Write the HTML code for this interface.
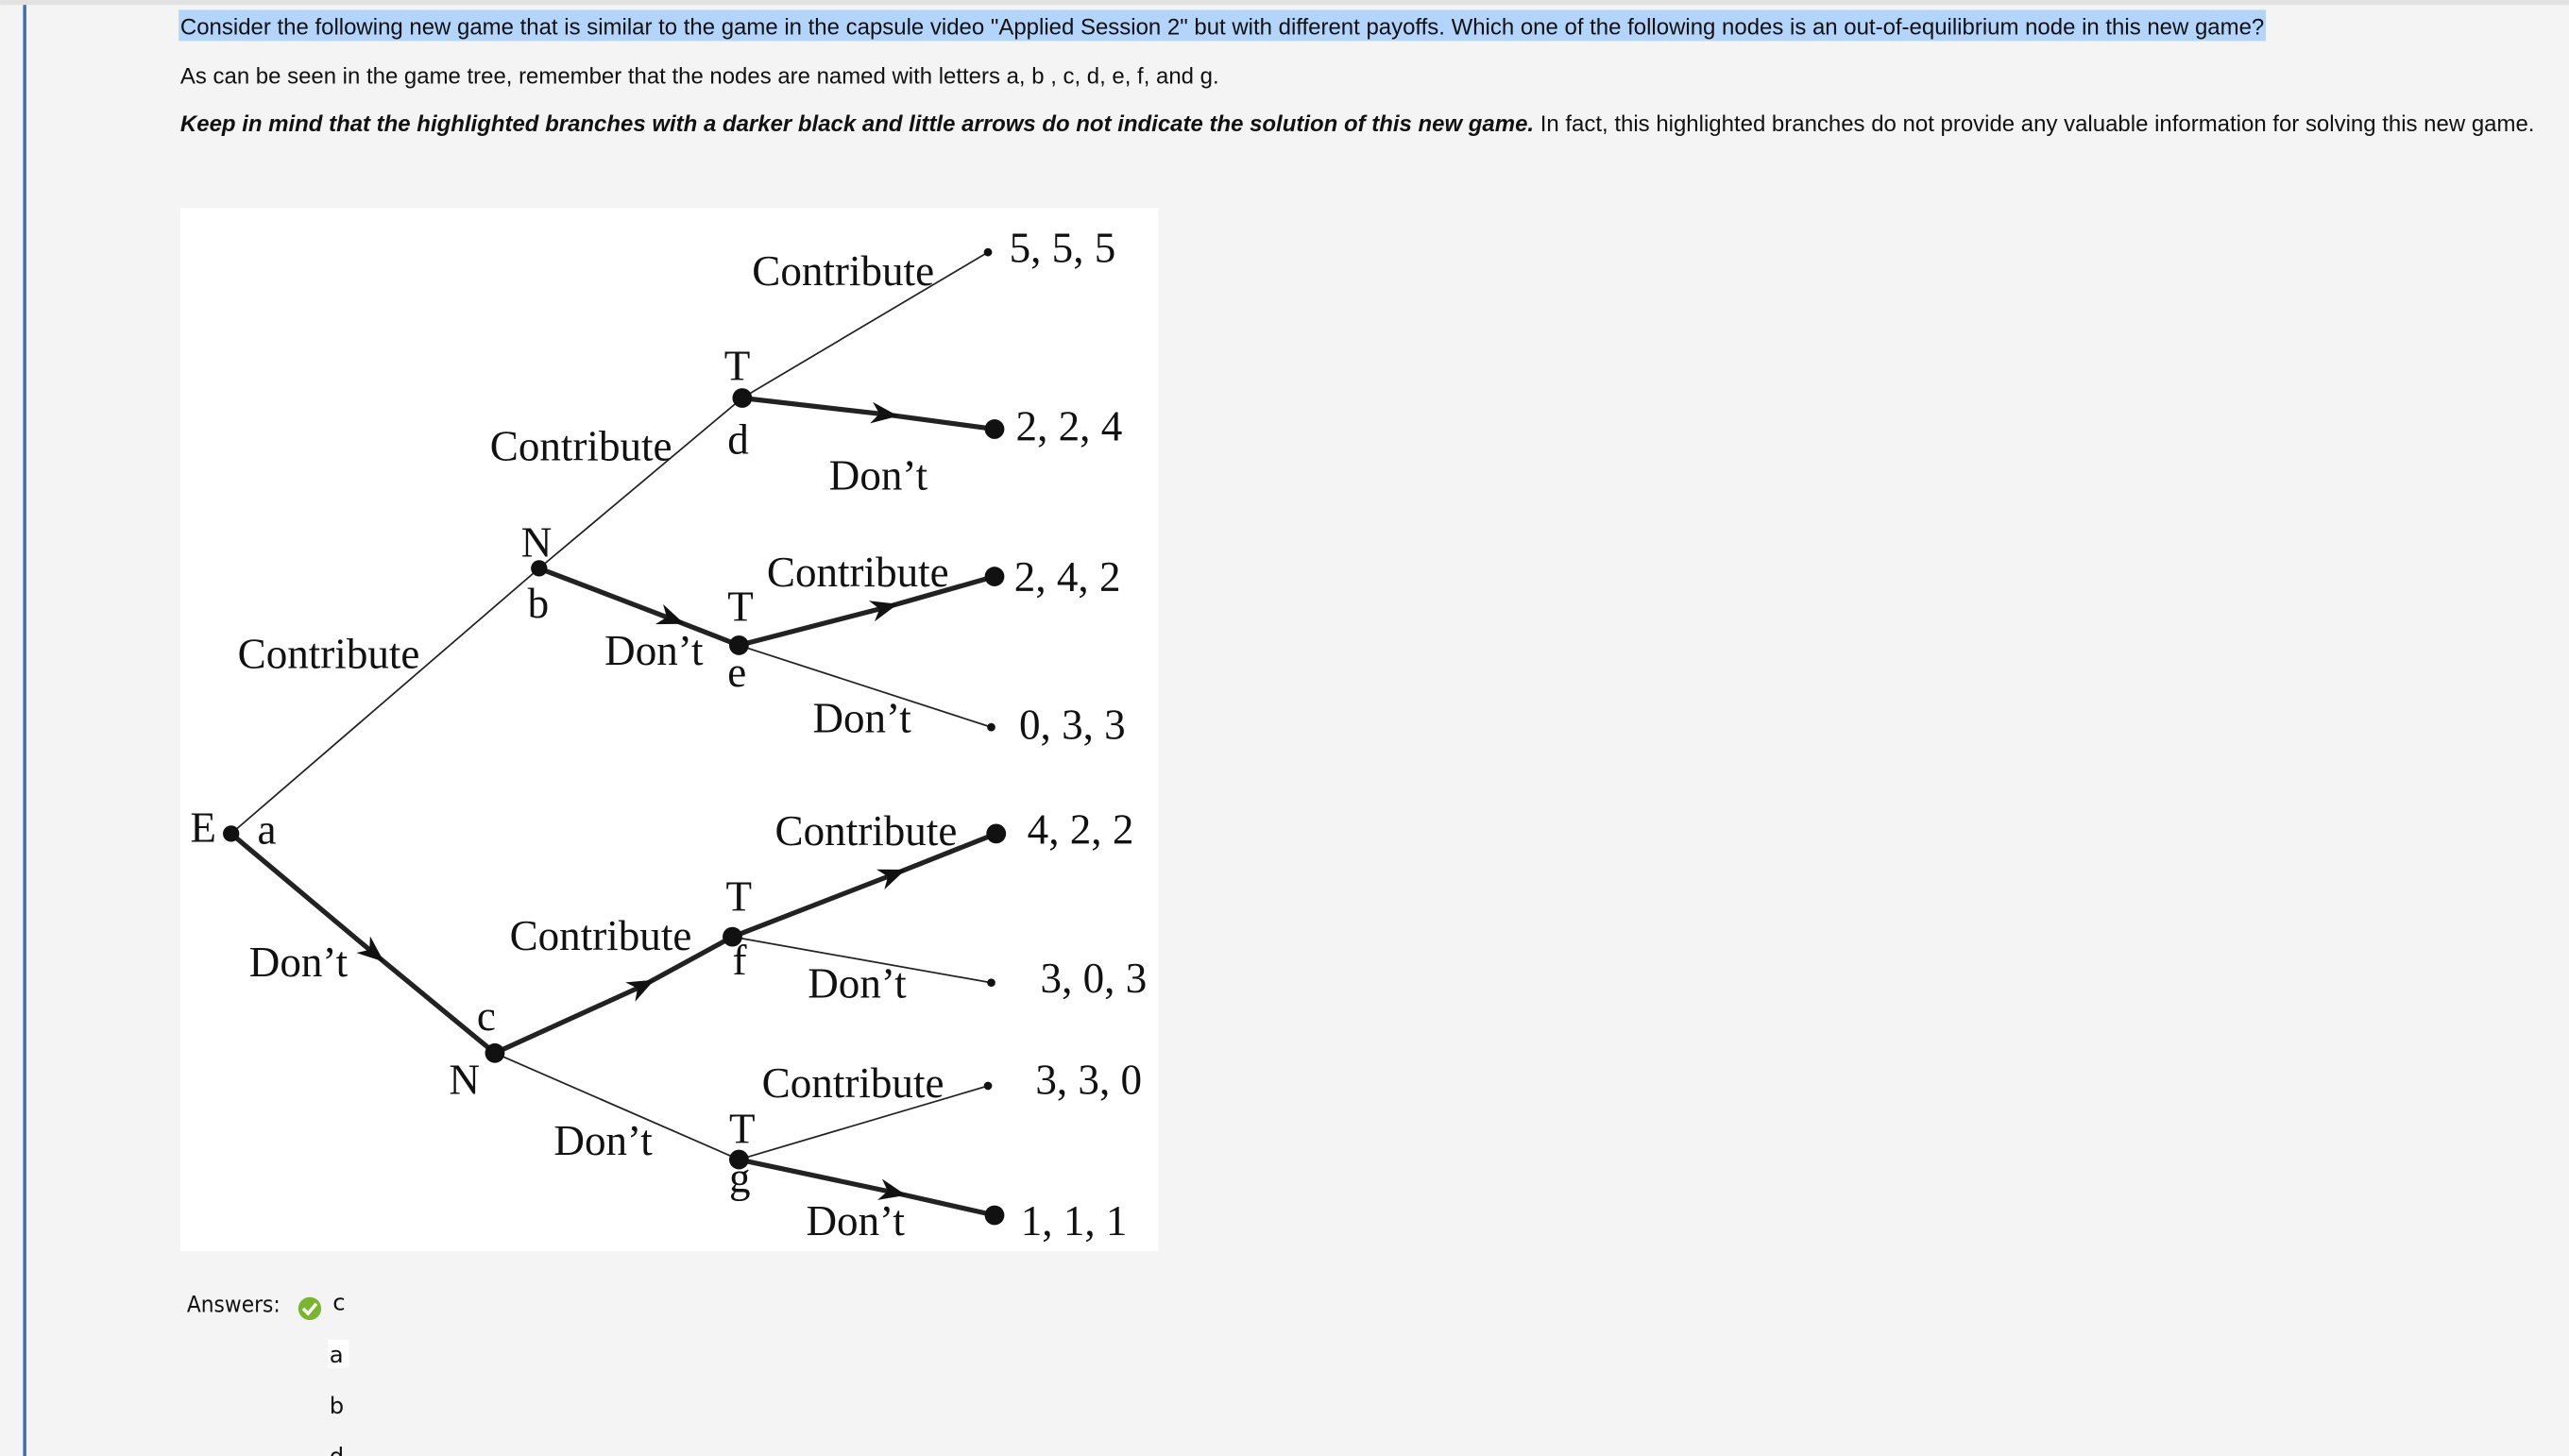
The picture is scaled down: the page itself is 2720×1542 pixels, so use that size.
<!DOCTYPE html>
<html><head><style>
html,body{margin:0;padding:0;background:#f4f4f4;}
svg{display:block;}
.q{font-family:"Liberation Sans",sans-serif;font-size:14px;fill:#111;}
.t{font-family:"Liberation Serif",serif;font-size:26px;fill:#111;}
.a{font-family:"DejaVu Sans","Liberation Sans",sans-serif;font-size:14px;fill:#111;}
</style></head><body>
<svg width="2720" height="1542" viewBox="0 0 1568 889" xmlns="http://www.w3.org/2000/svg">
<defs>
<marker id="ar" viewBox="0 0 10 10" refX="5" refY="5" markerWidth="5.5" markerHeight="5.5" orient="auto"><path d="M0,1 L10,5 L0,9 L3,5 z" fill="#111"/></marker>
</defs>
<rect x="0" y="0" width="1568" height="889" fill="#f4f4f4"/>
<rect x="0" y="0" width="1568" height="3" fill="#e2e2e2"/>
<rect x="14" y="3" width="2" height="886" fill="#3a6fb0"/>
<rect x="109" y="6" width="1274" height="19" fill="#b3d4fb"/>
<text class="q" x="110" y="21" textLength="1272" lengthAdjust="spacingAndGlyphs">Consider the following new game that is similar to the game in the capsule video "Applied Session 2" but with different payoffs. Which one of the following nodes is an out-of-equilibrium node in this new game?</text>
<text class="q" x="110" y="51" textLength="634" lengthAdjust="spacingAndGlyphs">As can be seen in the game tree, remember that the nodes are named with letters a, b , c, d, e, f, and g.</text>
<text class="q" x="110" y="80" textLength="1437" lengthAdjust="spacingAndGlyphs"><tspan font-weight="bold" font-style="italic">Keep in mind that the highlighted branches with a darker black and little arrows do not indicate the solution of this new game.</tspan> In fact, this highlighted branches do not provide any valuable information for solving this new game.</text>
<rect x="110" y="127" width="597" height="637" fill="#fff"/>
<g stroke="#222" fill="none">
<g stroke-width="1">
<line x1="141" y1="509" x2="329" y2="347"/>
<line x1="329" y1="347" x2="453" y2="243"/>
<line x1="453" y1="243" x2="603" y2="154"/>
<line x1="451" y1="394" x2="605" y2="444"/>
<line x1="447" y1="572" x2="605" y2="600"/>
<line x1="302" y1="643" x2="451" y2="708"/>
<line x1="451" y1="708" x2="603" y2="663"/>
</g>
<g stroke-width="3">
<polyline points="453,243 540,253 607,262" marker-mid="url(#ar)"/>
<polyline points="329,347 410,378 451,394" marker-mid="url(#ar)"/>
<polyline points="451,394 540,371 607,352" marker-mid="url(#ar)"/>
<polyline points="141,509 228,582 302,643" marker-mid="url(#ar)"/>
<polyline points="302,643 392,602 447,572" marker-mid="url(#ar)"/>
<polyline points="447,572 545,534 608,509" marker-mid="url(#ar)"/>
<polyline points="451,708 545,728 607,742" marker-mid="url(#ar)"/>
</g>
</g>
<g fill="#111">
<circle cx="141" cy="509" r="5"/><circle cx="329" cy="347" r="5"/><circle cx="453" cy="243" r="6"/>
<circle cx="451" cy="394" r="6"/><circle cx="302" cy="643" r="6"/><circle cx="447" cy="572" r="6"/><circle cx="451" cy="708" r="6"/>
<circle cx="603" cy="154" r="2.5"/><circle cx="607" cy="262" r="6"/><circle cx="607" cy="352" r="6"/><circle cx="605" cy="444" r="2.5"/>
<circle cx="608" cy="509" r="6"/><circle cx="605" cy="600" r="2.5"/><circle cx="603" cy="663" r="2.5"/><circle cx="607" cy="742" r="6"/>
</g>
<g class="t">
<text x="459" y="174">Contribute</text><text x="616" y="160">5, 5, 5</text>
<text x="442" y="232">T</text><text x="444" y="277">d</text>
<text x="299" y="281">Contribute</text><text x="620" y="269">2, 2, 4</text>
<text x="506" y="299">Don’t</text>
<text x="318" y="340">N</text><text x="322" y="377">b</text>
<text x="468" y="358">Contribute</text><text x="619" y="361">2, 4, 2</text>
<text x="444" y="379">T</text>
<text x="145" y="408">Contribute</text><text x="369" y="406">Don’t</text><text x="444" y="419">e</text>
<text x="496" y="447">Don’t</text><text x="622" y="451">0, 3, 3</text>
<text x="116" y="514">E</text><text x="157" y="515">a</text>
<text x="473" y="516">Contribute</text><text x="627" y="515">4, 2, 2</text>
<text x="443" y="556">T</text>
<text x="311" y="580">Contribute</text><text x="447" y="595">f</text>
<text x="152" y="596">Don’t</text><text x="493" y="609">Don’t</text><text x="635" y="606">3, 0, 3</text>
<text x="291" y="629">c</text>
<text x="274" y="668">N</text><text x="465" y="670">Contribute</text><text x="632" y="668">3, 3, 0</text>
<text x="338" y="705">Don’t</text><text x="445" y="698">T</text><text x="445" y="728">g</text>
<text x="492" y="754">Don’t</text><text x="623" y="754">1, 1, 1</text>
</g>
<text class="a" x="114" y="801" textLength="57" lengthAdjust="spacingAndGlyphs">Answers:</text>
<circle cx="189" cy="799" r="7" fill="#7ab530"/>
<path d="M185,799 l3,3 l5,-6" stroke="#fff" stroke-width="2" fill="none"/>
<text class="a" x="203" y="800">c</text>
<rect x="200" y="818" width="13" height="17" fill="#fff"/>
<text class="a" x="201" y="832">a</text>
<text class="a" x="201" y="863">b</text>
<text class="a" x="201" y="894">d</text>
</svg>
</body></html>
